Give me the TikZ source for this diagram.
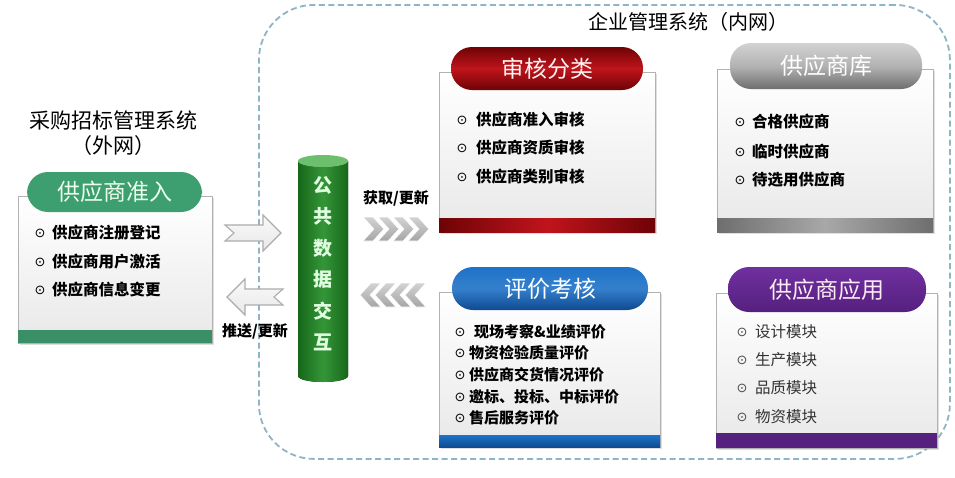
\documentclass[tikz,border=0pt]{standalone}
\usepackage{fontspec}
\setmainfont{Noto Sans CJK SC}
\newfontfamily\symf{DejaVu Sans}
\usetikzlibrary{shadows}
\definecolor{dashc}{HTML}{8FB4C6}
\definecolor{grn}{HTML}{3D9F6F}
\definecolor{grnbar}{HTML}{3A8F66}
\definecolor{redm}{HTML}{C0141C}
\definecolor{redd}{HTML}{6E0306}
\definecolor{grym}{HTML}{A8A8A8}
\definecolor{gryd}{HTML}{6E6E6E}
\definecolor{blum}{HTML}{1E72C8}
\definecolor{blud}{HTML}{0E4A90}
\definecolor{purm}{HTML}{7030A0}
\definecolor{purd}{HTML}{55207E}
\definecolor{cylg}{HTML}{1E8A22}
\definecolor{cyltop}{HTML}{6CBF6C}
\begin{document}
\begin{tikzpicture}[x=1pt,y=-1pt,
  panel/.style={draw=gray!60, line width=0.5pt, top color=white, bottom color=gray!18, anchor=north west,
    drop shadow={opacity=0.25, shadow xshift=2pt, shadow yshift=-2pt}},
  barbox/.style={anchor=north west, inner sep=0pt},
  pill/.style={rounded corners=21pt, inner sep=0pt, font=\fontsize{23}{26}\selectfont},
  item/.style={anchor=west, inner sep=0pt, font=\bfseries\fontsize{15.5}{18}\selectfont},
  itemr/.style={anchor=west, inner sep=0pt, text=black!80, font=\fontsize{15.5}{18}\selectfont},
  bul/.style={inner sep=0pt, font=\symf\fontsize{13}{14}\selectfont},
  ttl/.style={inner sep=0pt, font=\fontsize{20}{24}\selectfont},
  lbl/.style={inner sep=0pt, font=\bfseries\fontsize{15}{18}\selectfont},
  hollow/.style={top color=gray!4, bottom color=gray!18, draw=gray!65, line width=1.1pt, line join=miter},
  chev/.style={top color=gray!35, bottom color=gray!70, draw=white, line width=0.6pt}
]
\useasboundingbox (0,0) rectangle (955,477);
\fill[white] (0,0) rectangle (955,477);

% intranet dashed region
\node[draw=dashc, line width=1.8pt, dash pattern=on 6pt off 3.5pt, rounded corners=55pt,
  minimum width=691pt, minimum height=454pt, anchor=north west, inner sep=0pt] (intra) at (258,4) {};
\node[ttl] (t1) at (688,22) {企业管理系统（内网）};
\node[ttl, font=\fontsize{21}{24}\selectfont] (t2) at (113,120) {采购招标管理系统};
\node[ttl, font=\fontsize{21}{24}\selectfont] (t3) at (113,146) {（外网）};

% ---------- left panel: 供应商准入
\node[panel, minimum width=194pt, minimum height=147pt] (p0) at (18,196) {};
\node[barbox, fill=grnbar, minimum width=194pt, minimum height=13pt] (b0) at (18,330) {};
\node[pill, fill=grn, text=green!8, minimum width=175pt, minimum height=40pt] (h0) at (114.5,192) {供应商准入};
\foreach \y/\t [count=\i] in {233/供应商注册登记,262/供应商用户激活,290/供应商信息变更}{
  \node[bul] (b0u\i) at (40,\y) {⊙};
  \node[item] (b0i\i) at (52,\y) {\t};
}

% ---------- red panel: 审核分类
\node[panel, minimum width=216pt, minimum height=160pt] (p1) at (439,72) {};
\node[barbox, left color=redd, right color=redd, middle color=redm, minimum width=216pt, minimum height=14pt] (b1) at (439,218) {};
\node[pill, top color=redd, bottom color=redd, middle color=redm, text=red!5, minimum width=192pt, minimum height=43pt] (h1) at (547,68.5) {审核分类};
\foreach \y/\t [count=\i] in {120/供应商准入审核,148/供应商资质审核,177/供应商类别审核}{
  \node[bul] (b1u\i) at (462,\y) {⊙};
  \node[item] (b1i\i) at (476,\y) {\t};
}

% ---------- gray panel: 供应商库
\node[panel, minimum width=216pt, minimum height=163pt] (p2) at (717,69) {};
\node[barbox, left color=gryd, right color=gryd, middle color=grym, minimum width=216pt, minimum height=14pt] (b2) at (717,218) {};
\node[pill, top color=gray!35, bottom color=gryd, middle color=gray!60, text=white, minimum width=192pt, minimum height=46pt] (h2) at (826,66) {供应商库};
\foreach \y/\t [count=\i] in {122/合格供应商,152/临时供应商,180/待选用供应商}{
  \node[bul] (b2u\i) at (740,\y) {⊙};
  \node[item] (b2i\i) at (752,\y) {\t};
}

% ---------- blue panel: 评价考核
\node[panel, minimum width=221pt, minimum height=155pt] (p3) at (439,292) {};
\node[barbox, top color=blum, bottom color=blud, minimum width=221pt, minimum height=12pt] (b3) at (439,435) {};
\node[pill, top color=blum, bottom color=blud, middle color=blum!90!white, text=white, minimum width=196pt, minimum height=43pt] (h3) at (550,288.5) {评价考核};
\node[bul] (b3u1) at (460,332) {⊙};
\node[item, font=\bfseries\fontsize{15}{18}\selectfont] (b3i1) at (474,332) {现场考察\&业绩评价};
\foreach \y/\t [count=\i from 2] in {353/物资检验质量评价,375/供应商交货情况评价,397/邀标、投标、中标评价,418/售后服务评价}{
  \node[bul] (b3u\i) at (460,\y) {⊙};
  \node[item, font=\bfseries\fontsize{15}{18}\selectfont] (b3i\i) at (469,\y) {\t};
}

% ---------- purple panel: 供应商应用
\node[panel, minimum width=221pt, minimum height=155pt] (p4) at (716,293) {};
\node[barbox, fill=purd, minimum width=221pt, minimum height=15pt] (b4) at (716,433) {};
\node[pill, top color=purm, bottom color=purd, text=magenta!8, minimum width=198pt, minimum height=45pt] (h4) at (827,289.5) {供应商应用};
\foreach \y/\t [count=\i] in {332/设计模块,360/生产模块,388/品质模块,417/物资模块}{
  \node[bul, text=black!70] (b4u\i) at (742,\y) {⊙};
  \node[itemr] (b4i\i) at (755,\y) {\t};
}

% ---------- cylinder
\fill[left color=cylg!75!black, right color=cylg!75!black, middle color=cylg!90!white]
  (298,161) -- (298,376) arc[start angle=180, end angle=0, x radius=25, y radius=6]
  -- (348,161) arc[start angle=0, end angle=180, x radius=25, y radius=6] -- cycle;
\fill[cyltop] (323,161) ellipse[x radius=25, y radius=6];
\node[inner sep=0pt, minimum width=50pt, minimum height=227pt] (cyl) at (323,268.5) {};
\node[inner sep=0pt, align=center, text=green!12, font=\bfseries\fontsize{19}{31.5}\selectfont, anchor=north] (cyltxt) at (323,176)
  {公\\共\\数\\据\\交\\互};

% ---------- hollow arrows
\coordinate (ar1) at (225,233);
\draw[hollow] (ar1) ++(0,-8) -- ++(38,0) -- ++(0,-10) -- ++(18,18) -- ++(-18,18) -- ++(0,-10) -- ++(-38,0) -- ++(9,-8) -- cycle;
\coordinate (ar2) at (283,297);
\draw[hollow] (ar2) ++(0,-8) -- ++(-38,0) -- ++(0,-10) -- ++(-18,18) -- ++(18,18) -- ++(0,-10) -- ++(38,0) -- ++(-9,-8) -- cycle;
\node[lbl] (l2) at (255,331) {推送/更新};

% ---------- chevrons
\node[lbl] (l1) at (396,198) {获取/更新};
\coordinate (ch1) at (363,229);
\foreach \k in {0,1,2,3}{
  \path[chev] (ch1) ++(\k*15,-12) -- ++(10,0) -- ++(11,12) -- ++(-11,12) -- ++(-10,0) -- ++(11,-12) -- cycle;
}
\coordinate (ch2) at (426,295);
\foreach \k in {0,1,2,3}{
  \path[chev] (ch2) ++(-\k*15,-12) -- ++(-10,0) -- ++(-11,12) -- ++(11,12) -- ++(10,0) -- ++(-11,-12) -- cycle;
}
\end{tikzpicture}
\end{document}
